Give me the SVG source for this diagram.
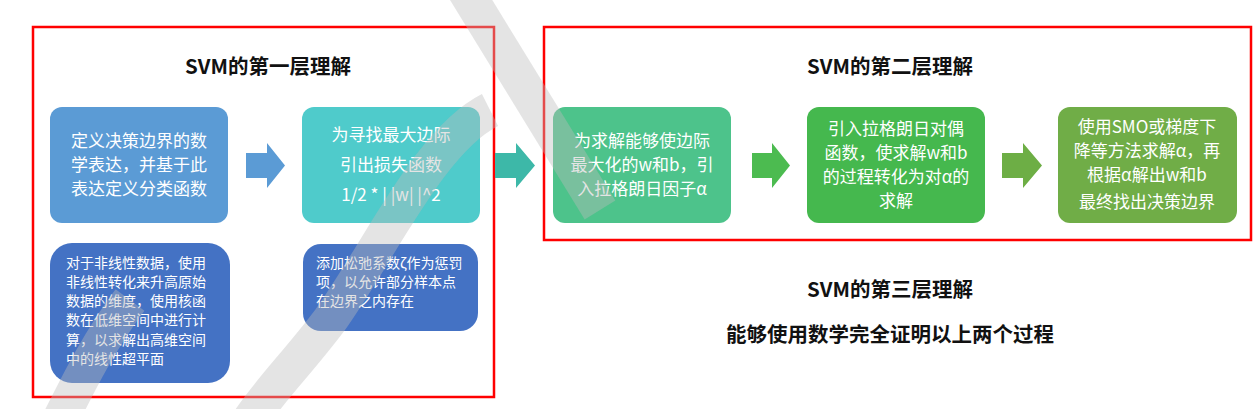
<svg xmlns="http://www.w3.org/2000/svg" width="1254" height="409" viewBox="0 0 1254 409">
<style>
text{font-family:"Noto Sans CJK SC","Liberation Sans",sans-serif;}
.t{fill:#fff;font-size:17px;text-anchor:middle}
.s{fill:#fff;font-size:14px}
.h{fill:#111;font-size:20.5px;font-weight:bold;text-anchor:middle}
.frame{fill:none;stroke:#f00;stroke-width:2.5}
.wm{fill:none;stroke:#bbb;stroke-opacity:0.4;stroke-width:36}
</style>
<rect width="1254" height="409" fill="#fff"/>
<g id="frames">
<rect class="frame" x="33" y="27" width="461" height="370"/>
<rect class="frame" x="544" y="27" width="707" height="213"/>
</g>
<g id="box1"><rect x="50" y="107" width="178" height="116" rx="12" fill="#5B9BD5"/>
<text class="t"><tspan x="139" y="147">定义决策边界的数</tspan><tspan x="139" y="171">学表达，并基于此</tspan><tspan x="139" y="195">表达定义分类函数</tspan></text></g>
<g id="box2"><rect x="302" y="107" width="178" height="116" rx="12" fill="#4FCBCB"/>
<text class="t"><tspan x="391" y="141">为寻找最大边际</tspan><tspan x="391" y="171">引出损失函数</tspan><tspan x="391" y="201">1/2 * | |w| |^2</tspan></text></g>
<g id="box3"><rect x="553" y="107" width="178" height="116" rx="12" fill="#4DC38B"/>
<text class="t"><tspan x="642" y="147">为求解能够使边际</tspan><tspan x="642" y="171">最大化的w和b，引</tspan><tspan x="642" y="195">入拉格朗日因子α</tspan></text></g>
<g id="box4"><rect x="807" y="107" width="178" height="116" rx="12" fill="#45B84E"/>
<text class="t"><tspan x="896" y="135">引入拉格朗日对偶</tspan><tspan x="896" y="159">函数，使求解w和b</tspan><tspan x="896" y="183">的过程转化为对α的</tspan><tspan x="896" y="207">求解</tspan></text></g>
<g id="box5"><rect x="1058" y="107" width="179" height="116" rx="12" fill="#70AD47"/>
<text class="t"><tspan x="1147" y="133">使用SMO或梯度下</tspan><tspan x="1147" y="157">降等方法求解α，再</tspan><tspan x="1147" y="181">根据α解出w和b</tspan><tspan x="1147" y="208">最终找出决策边界</tspan></text></g>
<g id="box6"><rect x="50" y="243" width="180" height="140" rx="22" fill="#4472C4"/>
<text class="s"><tspan x="66" y="268">对于非线性数据，使用</tspan><tspan x="66" y="287">非线性转化来升高原始</tspan><tspan x="66" y="306">数据的维度，使用核函</tspan><tspan x="66" y="325">数在低维空间中进行计</tspan><tspan x="66" y="345">算，以求解出高维空间</tspan><tspan x="66" y="364">中的线性超平面</tspan></text></g>
<g id="box7"><rect x="303" y="244" width="175" height="87" rx="18" fill="#4472C4"/>
<text class="s"><tspan x="316" y="268">添加松弛系数ζ作为惩罚</tspan><tspan x="316" y="287">项，以允许部分样本点</tspan><tspan x="316" y="306">在边界之内存在</tspan></text></g>
<g id="connectors">
<polygon points="246,153 267,153 267,143 285,165.5 267,188 267,178 246,178" fill="#5B9BD5"/>
<polygon points="495,153 516,153 516,143 535,165.5 516,188 516,178 495,178" fill="#3DB8A8"/>
<polygon points="752,153 772,153 772,143 790,165.5 772,188 772,178 752,178" fill="#4CBB50"/>
<polygon points="1002,153 1023,153 1023,143 1042,165.5 1023,188 1023,178 1002,178" fill="#6DAE45"/>
</g>
<g id="watermark">
<path class="wm" d="M465,-10 L600,210"/>
<path class="wm" d="M490,110 C430,140 380,250 330,320 C300,360 270,390 250,420"/>
<path class="wm" d="M130,300 C100,340 80,380 60,420"/>
</g>
<g id="titles">
<text class="h" x="268" y="74">SVM的第一层理解</text>
<text class="h" x="890" y="74">SVM的第二层理解</text>
<text class="h" x="890" y="297">SVM的第三层理解</text>
<text class="h" x="890" y="342">能够使用数学完全证明以上两个过程</text>
</g>
</svg>
